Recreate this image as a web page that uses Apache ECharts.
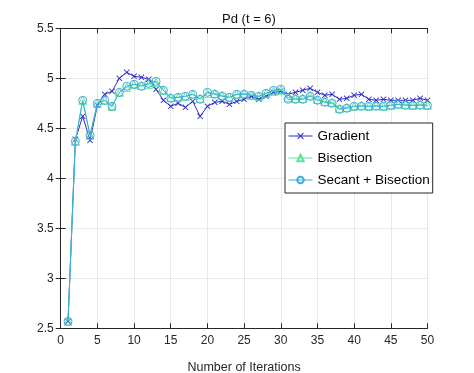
<!DOCTYPE html>
<html>
<head>
<meta charset="utf-8">
<script src="https://cdn.jsdelivr.net/npm/echarts@6/dist/echarts.min.js"></script>
<style>html,body{margin:0;padding:0;background:#fff}#c{width:474px;height:373px}</style>
</head>
<body>
<div id="c"></div>
<script>
const iterations = Array.from({length: 50}, (_, k) => k + 1);
const gradient = [2.57,4.39,4.62,4.38,4.73,4.84,4.87,5.00,5.06,5.02,5.01,4.99,4.89,4.78,4.72,4.75,4.71,4.77,4.62,4.72,4.76,4.77,4.74,4.77,4.79,4.82,4.79,4.82,4.86,4.87,4.84,4.86,4.88,4.90,4.86,4.83,4.84,4.79,4.80,4.83,4.84,4.79,4.78,4.79,4.78,4.78,4.78,4.78,4.80,4.78];
const bisection = [2.57,4.37,4.78,4.43,4.75,4.78,4.72,4.86,4.91,4.94,4.93,4.94,4.96,4.88,4.81,4.81,4.82,4.84,4.80,4.85,4.85,4.83,4.81,4.84,4.85,4.83,4.82,4.85,4.87,4.88,4.81,4.80,4.80,4.83,4.79,4.77,4.76,4.70,4.71,4.72,4.73,4.72,4.73,4.72,4.73,4.74,4.74,4.73,4.74,4.73];
const secant = [2.57,4.37,4.78,4.43,4.75,4.78,4.72,4.86,4.92,4.94,4.92,4.95,4.97,4.88,4.80,4.81,4.82,4.84,4.79,4.86,4.84,4.82,4.81,4.84,4.84,4.83,4.82,4.85,4.88,4.89,4.79,4.79,4.79,4.82,4.78,4.76,4.75,4.69,4.70,4.72,4.72,4.72,4.72,4.72,4.73,4.74,4.73,4.73,4.73,4.73];
const xTicks = {min: 0, max: 50, interval: 5};
const yTicks = {min: 2.5, max: 5.5, interval: 0.5};

const FONT = 'Liberation Sans';
const xMark = 'path://M0,1 L1,0 L5,4 L9,0 L10,1 L6,5 L10,9 L9,10 L5,6 L1,10 L0,9 L4,5 Z';
const cGrad = '#2b2bc9', cBis = '#5fe39a', cSec = '#3cabdc';
const pair = arr => iterations.map((x, k) => [x, arr[k]]);

const axisCommon = {
  axisLine: {show: true, lineStyle: {color: '#262626', width: 1}},
  axisTick: {show: true, inside: true, length: 5, lineStyle: {color: '#262626'}},
};
const chart = echarts.init(document.getElementById('c'));
chart.setOption({
  animation: false,
  backgroundColor: '#fff',
  title: {text: 'Pd (t = 6)', left: 244, top: 8, textAlign: 'center',
    textStyle: {fontFamily: FONT, fontSize: 13, fontWeight: 'normal', color: '#111'}},
  grid: {left: 60.7, right: 46.5, top: 28.3, bottom: 44.7, containLabel: false, outerBoundsMode: 'none'},
  legend: {
    orient: 'vertical', left: 285, top: 123,
    backgroundColor: '#fff', borderColor: '#262626', borderWidth: 1,
    padding: [6, 3, 6, 3], itemGap: 8, itemWidth: 24, itemHeight: 8,
    lineStyle: {width: 1},
    textStyle: {fontFamily: FONT, fontSize: 13.5, color: '#000'},
    data: ['Gradient', 'Bisection', 'Secant + Bisection']
  },
  xAxis: [
    Object.assign({type: 'value', position: 'bottom', min: xTicks.min, max: xTicks.max, interval: xTicks.interval,
      name: 'Number of Iterations', nameLocation: 'middle', nameGap: 33,
      nameTextStyle: {fontFamily: FONT, fontSize: 12.5, color: '#262626'},
      axisLabel: {fontFamily: FONT, fontSize: 12, color: '#262626', margin: 6},
      splitLine: {show: true, lineStyle: {color: '#e8e8e8'}}}, axisCommon),
    Object.assign({type: 'value', position: 'top', min: xTicks.min, max: xTicks.max, interval: xTicks.interval,
      axisLabel: {show: false}, splitLine: {show: false}}, axisCommon)
  ],
  yAxis: [
    Object.assign({type: 'value', position: 'left', min: yTicks.min, max: yTicks.max, interval: yTicks.interval,
      axisLabel: {fontFamily: FONT, fontSize: 12, color: '#262626', margin: 7},
      splitLine: {show: true, lineStyle: {color: '#e8e8e8'}}}, axisCommon),
    Object.assign({type: 'value', position: 'right', min: yTicks.min, max: yTicks.max, interval: yTicks.interval,
      axisLabel: {show: false}, splitLine: {show: false}}, axisCommon)
  ],
  series: [
    {name: 'Gradient', type: 'line', data: pair(gradient), symbol: xMark, symbolSize: 6,
      lineStyle: {color: cGrad, width: 1}, itemStyle: {color: cGrad}, z: 3},
    {name: 'Bisection', type: 'line', data: pair(bisection), symbol: 'triangle', symbolSize: 8,
      lineStyle: {color: cBis, width: 1}, itemStyle: {color: 'rgba(0,0,0,0)', borderColor: cBis, borderWidth: 1}, z: 4},
    {name: 'Secant + Bisection', type: 'line', data: pair(secant), symbol: 'circle', symbolSize: 8,
      lineStyle: {color: cSec, width: 1}, itemStyle: {color: 'rgba(0,0,0,0)', borderColor: cSec, borderWidth: 1}, z: 5}
  ]
});
</script>
</body>
</html>
